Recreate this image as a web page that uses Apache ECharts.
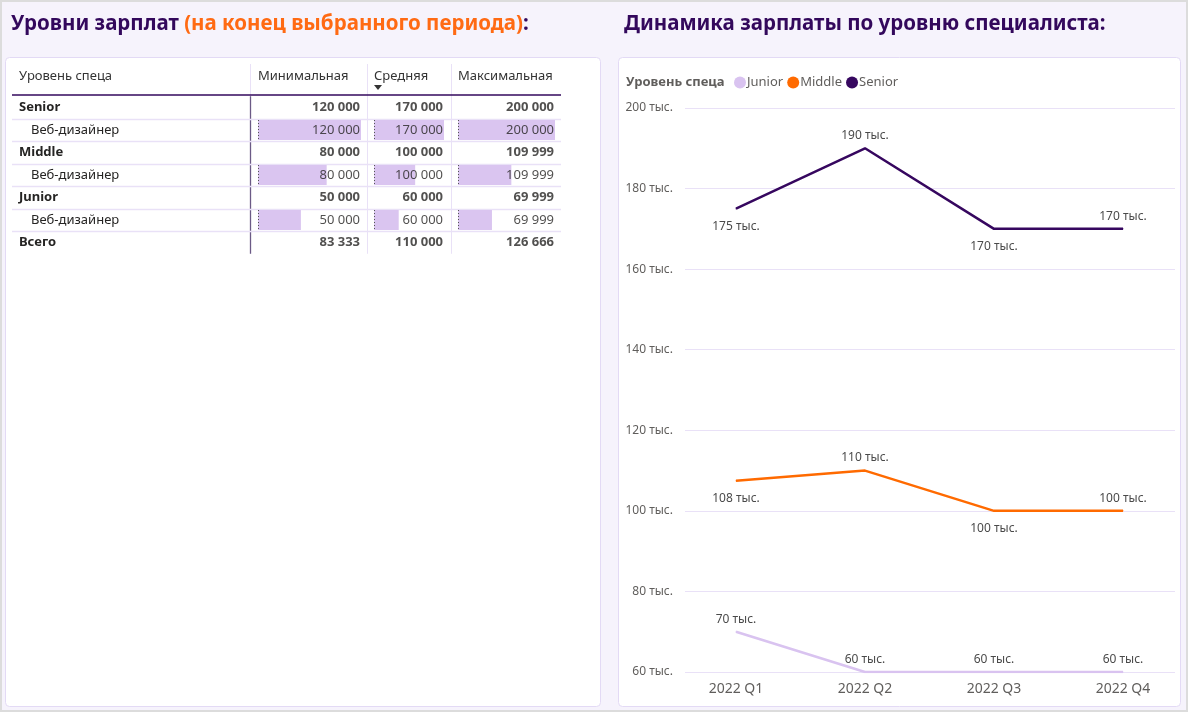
<!DOCTYPE html>
<html>
<head>
    <meta charset="utf-8"/>
    <title>Зарплаты</title>
    <script src="https://cdn.jsdelivr.net/npm/echarts@6/dist/echarts.min.js"></script>
    <style>
        html, body { margin: 0; padding: 0; background: #f6f3fc; }
        #main { width: 1188px; height: 712px; }
    </style>
</head>
<body>
<div id="main"></div>
<script>
    // таблица
    var rowLabels = ['Senior', 'Веб-дизайнер', 'Middle', 'Веб-дизайнер', 'Junior', 'Веб-дизайнер', 'Всего'];
    var rowLevel = [0, 1, 0, 1, 0, 1, 0];
    var columnNames = ['Минимальная', 'Средняя', 'Максимальная'];
    var minValues = [120000, 120000, 80000, 80000, 50000, 50000, 83333];
    var avgValues = [170000, 170000, 100000, 100000, 60000, 60000, 110000];
    var maxValues = [200000, 200000, 109999, 109999, 69999, 69999, 126666];

    // график
    var quarters = ['2022 Q1', '2022 Q2', '2022 Q3', '2022 Q4'];
    var juniorSalary = [70, 60, 60, 60];
    var middleSalary = [107.5, 110, 100, 100];
    var seniorSalary = [175, 190, 170, 170];

    var FONT = '"Segoe UI", "Noto Sans", sans-serif';
    var DARK = '#33085c';
    var LINE = '#e9e1f7';

    function fmt(v) {
        return String(v).replace(/\B(?=(\d{3})+(?!\d))/g, ' ');
    }

    var myChart = echarts.init(document.getElementById('main'));

    // геометрия таблицы
    var rowTop = 96.25, rowH = 22.5;
    var colLeft = [258, 374, 458];
    var colWidth = [103, 70, 97];
    var colValues = [minValues, avgValues, maxValues];

    var graphic = [];
    // панели
    graphic.push({type: 'rect', shape: {x: 0.5, y: 0.5, width: 1187, height: 711}, style: {fill: 'none', stroke: '#dcdcdc', lineWidth: 3}, silent: true});
    graphic.push({type: 'rect', shape: {x: 5.5, y: 57.5, width: 595, height: 649, r: 4}, style: {fill: '#fff', stroke: '#e3daf5'}});
    graphic.push({type: 'rect', shape: {x: 618.5, y: 57.5, width: 562, height: 649, r: 4}, style: {fill: '#fff', stroke: '#e3daf5'}});
    // заголовки
    graphic.push({
        type: 'text', left: 11, top: 14,
        style: {
            text: '{a|Уровни зарплат }{b|(на конец выбранного периода)}{a|:}',
            rich: {
                a: {fontFamily: FONT, fontSize: 20.5, fontWeight: 'bold', fill: DARK},
                b: {fontFamily: FONT, fontSize: 20.5, fontWeight: 'bold', fill: '#ff6a13'}
            }
        }
    });
    graphic.push({type: 'text', left: 624, top: 14, style: {text: 'Динамика зарплаты по уровню специалиста:', font: 'bold 20.5px ' + FONT, fill: DARK}});

    // шапка таблицы
    graphic.push({type: 'text', x: 19, y: 76.5, style: {text: 'Уровень спеца', font: '13px ' + FONT, fill: '#333', verticalAlign: 'middle'}});
    columnNames.forEach(function (name, i) {
        graphic.push({type: 'text', x: colLeft[i], y: 76.5, style: {text: name, font: '13px ' + FONT, fill: '#333', verticalAlign: 'middle'}});
    });
    graphic.push({type: 'polygon', shape: {points: [[374, 85], [382, 85], [378, 90]]}, style: {fill: '#333'}});
    [250.5, 367.5, 451.5].forEach(function (x) {
        graphic.push({type: 'line', shape: {x1: x, y1: 64, x2: x, y2: rowTop + rowH * 7}, style: {stroke: LINE, lineWidth: 1}});
    });
    graphic.push({type: 'line', shape: {x1: 250.5, y1: rowTop, x2: 250.5, y2: rowTop + rowH * 7}, style: {stroke: '#6b5a86', lineWidth: 1.3}});
    graphic.push({type: 'line', shape: {x1: 12, y1: 95, x2: 561, y2: 95}, style: {stroke: DARK, lineWidth: 1.4}});

    rowLabels.forEach(function (name, r) {
        var cy = rowTop + rowH * (r + 0.5);
        graphic.push({
            type: 'text', x: rowLevel[r] ? 31 : 19, y: cy,
            style: {text: name, font: (rowLevel[r] ? '' : 'bold ') + '13px ' + FONT, fill: '#252423', verticalAlign: 'middle'}
        });
        if (r < rowLabels.length - 1) {
            var ly = Math.round(rowTop + rowH * (r + 1)) + 0.5;
            graphic.push({type: 'line', shape: {x1: 12, y1: ly, x2: 561, y2: ly}, style: {stroke: LINE, lineWidth: 1.5}});
        }
        if (rowLevel[r]) {
            colLeft.forEach(function (x) {
                graphic.push({type: 'line', z: 20, shape: {x1: x + 0.5, y1: cy - 10, x2: x + 0.5, y2: cy + 10}, style: {stroke: '#555', lineWidth: 1, lineDash: [1, 2]}});
            });
        }
    });

    // легенда
    graphic.push({type: 'text', x: 626, y: 82, style: {text: 'Уровень спеца', font: 'bold 13px ' + FONT, fill: '#605e5c', verticalAlign: 'middle'}});

    var grids = [], xAxes = [], yAxes = [], series = [];

    colValues.forEach(function (vals, c) {
        var barMax = Math.max.apply(null, vals.filter(function (v, r) { return rowLevel[r] === 1; }));
        grids.push({left: colLeft[c], top: rowTop, width: colWidth[c], height: rowH * 7});
        xAxes.push({type: 'value', gridIndex: c, min: 0, max: barMax, show: false});
        yAxes.push({type: 'category', gridIndex: c, data: rowLabels, inverse: true, show: false});
        series.push({
            type: 'bar', xAxisIndex: c, yAxisIndex: c, barWidth: 20, silent: true,
            itemStyle: {color: '#dac5f0'},
            data: vals.map(function (v, r) { return rowLevel[r] ? v : null; })
        });
        series.push({
            type: 'scatter', xAxisIndex: c, yAxisIndex: c, symbolSize: 0, silent: true, z: 5,
            data: vals.map(function (v, r) {
                return {
                    value: [barMax, r],
                    label: {
                        show: true, position: 'left', distance: 1,
                        formatter: fmt(v),
                        fontFamily: FONT, fontSize: 13,
                        fontWeight: rowLevel[r] ? 'normal' : 'bold',
                        color: '#252423'
                    }
                };
            })
        });
    });

    // линейный график: сетка с линиями и сетка с данными
    var lg = grids.length;
    grids.push({left: 685, top: 108, width: 490, height: 564});
    xAxes.push({type: 'value', gridIndex: lg, min: 0, max: 1, show: false});
    yAxes.push({
        type: 'value', gridIndex: lg, min: 60, max: 200, interval: 20,
        axisLine: {show: false}, axisTick: {show: false},
        axisLabel: {formatter: function (v) { return v + ' тыс.'; }, color: '#605e5c', fontFamily: FONT, fontSize: 12, margin: 12},
        splitLine: {lineStyle: {color: LINE, width: 1}}
    });
    grids.push({left: 671.5, top: 108, width: 516, height: 564});
    xAxes.push({
        type: 'category', gridIndex: lg + 1, data: quarters, boundaryGap: true,
        axisLine: {show: false}, axisTick: {show: false},
        axisLabel: {color: '#605e5c', fontFamily: FONT, fontSize: 14, margin: 10}
    });
    yAxes.push({type: 'value', gridIndex: lg + 1, min: 60, max: 200, show: false});

    function lineSeries(name, vals, color, positions) {
        return {
            name: name, type: 'line', xAxisIndex: lg + 1, yAxisIndex: lg + 1,
            symbol: 'circle', symbolSize: 1, showSymbol: true, color: color,
            itemStyle: {color: color},
            lineStyle: {width: 2.5, color: color},
            data: vals.map(function (v, i) {
                return {value: v, label: {position: positions[i], distance: positions[i] === 'top' ? 6 : 11}};
            }),
            label: {
                show: true,
                formatter: function (p) { return Math.round(p.value) + ' тыс.'; },
                color: '#4a4a4a', fontFamily: FONT, fontSize: 12
            }
        };
    }
    series.push(lineSeries('Junior', juniorSalary, '#d9c3f0', ['top', 'top', 'top', 'top']));
    series.push(lineSeries('Middle', middleSalary, '#ff6a00', ['bottom', 'top', 'bottom', 'top']));
    series.push(lineSeries('Senior', seniorSalary, '#36075f', ['bottom', 'top', 'bottom', 'top']));

    var option = {
        animation: false,
        backgroundColor: '#f6f3fc',
        graphic: graphic,
        legend: {
            left: 734, top: 76, padding: 0,
            icon: 'circle', itemWidth: 12, itemHeight: 12, itemGap: 4,
            data: ['Junior', 'Middle', 'Senior'],
            textStyle: {color: '#605e5c', fontFamily: FONT, fontSize: 13, padding: [0, 0, 0, -4]}
        },
        grid: grids,
        xAxis: xAxes,
        yAxis: yAxes,
        series: series
    };

    myChart.setOption(option);
</script>
</body>
</html>
